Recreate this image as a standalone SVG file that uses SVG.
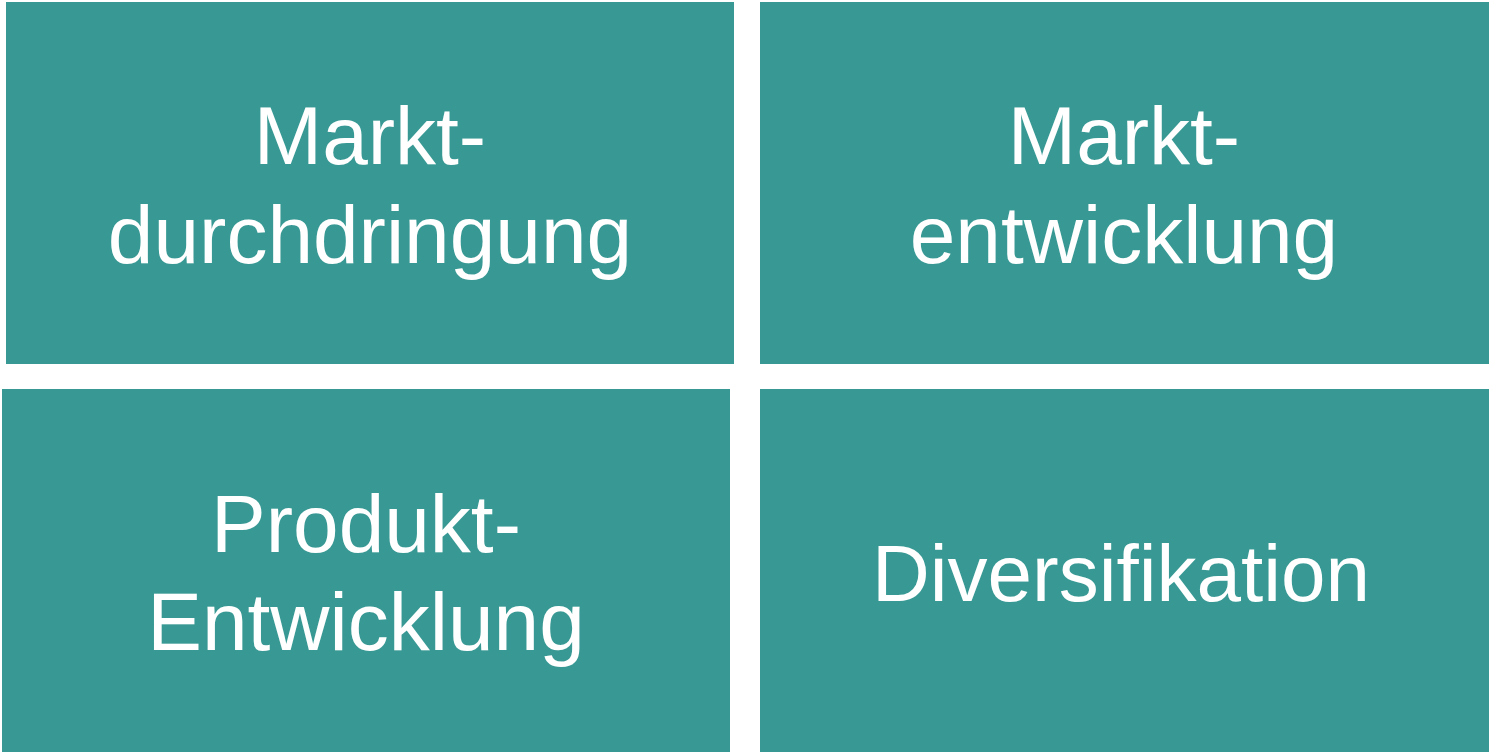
<svg xmlns="http://www.w3.org/2000/svg" width="1489" height="756" viewBox="0 0 1489 756">
<style>
.box{fill:#389994;}
.lbl{fill:#ffffff;font-family:"Liberation Sans",Arial,sans-serif;font-size:82px;text-anchor:middle;}
</style>
<rect width="1489" height="756" fill="#ffffff"/>
<g id="markt-durchdringung">
<rect class="box" x="6" y="2" width="728" height="362"/>
<text class="lbl" x="370" y="164">Markt-</text>
<text class="lbl" x="370" y="263">durchdringung</text>
</g>
<g id="markt-entwicklung">
<rect class="box" x="760" y="2" width="729" height="362"/>
<text class="lbl" x="1124" y="164">Markt-</text>
<text class="lbl" x="1124" y="263">entwicklung</text>
</g>
<g id="produkt-entwicklung">
<rect class="box" x="2" y="389" width="728" height="363"/>
<text class="lbl" x="366" y="552">Produkt-</text>
<text class="lbl" x="366" y="650">Entwicklung</text>
</g>
<g id="diversifikation">
<rect class="box" x="760" y="389" width="729" height="363"/>
<text class="lbl" x="1121" y="601" style="font-size:80px">Diversifikation</text>
</g>
<g id="connectors"></g>
</svg>
